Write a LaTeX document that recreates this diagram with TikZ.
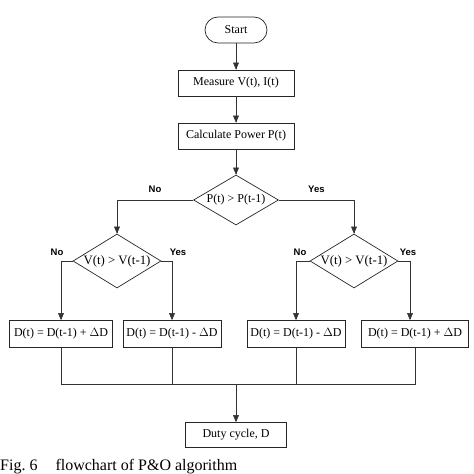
\documentclass[tikz,border=0pt]{standalone}
\usepackage{fontspec}
\setmainfont{Liberation Serif}
\newfontfamily\labelfont{Liberation Sans}
\usetikzlibrary{shapes.geometric, arrows}

\begin{document}
\begin{tikzpicture}[x=1pt, y=1pt, node distance=53pt, font=\fontsize{12}{14}\selectfont]
\tikzstyle{startstop} = [rectangle, rounded corners=13pt, draw=black!85, line width=0.7pt, minimum width=62pt, minimum height=26pt, inner sep=1pt]
\tikzstyle{process} = [rectangle, draw=black!85, line width=0.7pt, minimum height=26pt, inner sep=1pt]
\tikzstyle{decision} = [diamond, aspect=1.6, draw=black!85, line width=0.7pt, inner sep=0pt, minimum width=88pt, minimum height=54pt]
\tikzstyle{answer} = [font=\labelfont\bfseries\fontsize{9.5}{11}\selectfont, inner sep=1pt]
\tikzstyle{arrow} = [draw=black!80, line width=0.6pt, ->, >=triangle 45]
\tikzstyle{line} = [draw=black!80, line width=0.6pt]

\useasboundingbox (0,0) rectangle (474,474);
\clip (0,0) rectangle (474,474);

\node (start) [startstop] at (236,444) {Start};
\node (meas) [process, minimum width=116pt, below of=start] {Measure V(t), I(t)};
\node (power) [process, minimum width=116pt, below of=meas] {Calculate Power P(t)};
\node (cmpP) [decision, minimum width=85pt, minimum height=50pt, node distance=64pt, below of=power] {P(t) > P(t-1)};
\node (cmpVl) [decision, font=\fontsize{12.8}{14}\selectfont] at (117,213) {V(t) > V(t-1)};
\node (cmpVr) [decision, font=\fontsize{12.8}{14}\selectfont] at (354,213) {V(t) > V(t-1)};
\node (d1) [process, minimum width=103pt, minimum height=27pt] at (61,140) {D(t) = D(t-1) + $\Delta$D};
\node (d2) [process, minimum width=98pt, minimum height=27pt] at (172,140) {D(t) = D(t-1) - $\Delta$D};
\node (d3) [process, minimum width=98pt, minimum height=27pt] at (296,140) {D(t) = D(t-1) - $\Delta$D};
\node (d4) [process, minimum width=107pt, minimum height=27pt] at (415,140) {D(t) = D(t-1) + $\Delta$D};
\coordinate (join) at (236,90);
\node (duty) [process, minimum width=101pt, minimum height=25pt] at (236,39) {Duty cycle, D};
\node (caption) [anchor=base west, inner sep=0pt, font=\fontsize{16}{18}\selectfont] at (0,3) {Fig.~6\hspace{18pt}flowchart of P\&O algorithm};

\draw [arrow] (start) -- (meas);
\draw [arrow] (meas) -- (power);
\draw [arrow] (power) -- (cmpP);
\draw [arrow] (cmpP.west) -| node (noP) [answer, pos=0.25, above=6pt] {No} (cmpVl);
\draw [arrow] (cmpP.east) -| node (yesP) [answer, pos=0.25, above=6pt] {Yes} (cmpVr);
\draw [arrow] (cmpVl.west) -| node (noVl) [answer, pos=0.5, above=4pt, xshift=-4pt] {No} (d1);
\draw [arrow] (cmpVl.east) -| node (yesVl) [answer, pos=0.5, above=4pt, xshift=6pt] {Yes} (d2);
\draw [arrow] (cmpVr.west) -| node (noVr) [answer, pos=0.5, above=4pt, xshift=4pt] {No} (d3);
\draw [arrow] (cmpVr.east) -| node (yesVr) [answer, pos=0.5, above=4pt, xshift=-2pt] {Yes} ([xshift=-5pt]d4.north);

\draw [line] (d1.south) |- (join);
\draw [line] (d4.south) |- (join);
\draw [line] (d2.south) -- (d2.south |- join);
\draw [line] (d3.south) -- (d3.south |- join);
\draw [arrow] (join) -- (duty);
\end{tikzpicture}
\end{document}
